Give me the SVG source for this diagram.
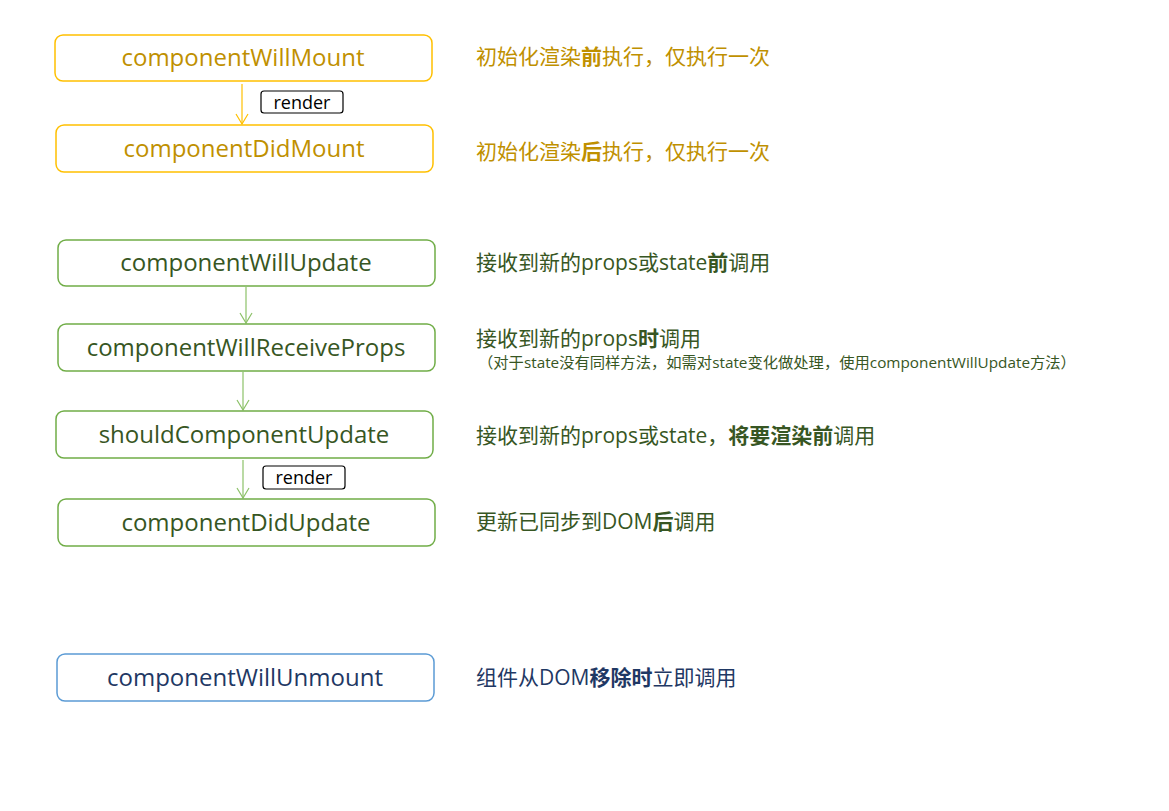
<svg xmlns="http://www.w3.org/2000/svg" width="1169" height="811" viewBox="0 0 1169 811">
<defs>
<style>
.box{fill:#fff;stroke-width:1.5}
.o{stroke:#FFC000}
.g{stroke:#70AD47}
.b{stroke:#5B9BD5}
.bt{font-family:"Open Sans","Noto Sans CJK SC",sans-serif;font-size:24px;text-anchor:middle}
.rt{font-family:"Open Sans","Noto Sans CJK SC",sans-serif;font-size:21px}
.note{font-family:"Open Sans","Noto Sans CJK SC",sans-serif;font-size:15.3px}
.to{fill:#BF9000}
.tg{fill:#375623}
.tb{fill:#1F3864}
.lbl{fill:#fff;stroke:#000;stroke-width:1.2}
.lt{font-family:"Open Sans","Noto Sans CJK SC",sans-serif;font-size:18px;text-anchor:middle;fill:#000}
.bold{font-weight:bold}
.ao{stroke:#FFC000;stroke-width:1.2;fill:none}
.ag{stroke:#8CC168;stroke-width:1.2;fill:none}
</style>
<marker id="arrO" viewBox="0 0 12 14" markerWidth="12" markerHeight="14" refX="11" refY="7" orient="auto" markerUnits="userSpaceOnUse">
<path d="M1,1 L11,7 L1,13" fill="none" stroke="#FFC000" stroke-width="1.2"/>
</marker>
<marker id="arrG" viewBox="0 0 12 14" markerWidth="12" markerHeight="14" refX="11" refY="7" orient="auto" markerUnits="userSpaceOnUse">
<path d="M1,1 L11,7 L1,13" fill="none" stroke="#8CC168" stroke-width="1.2"/>
</marker>
</defs>
<rect width="1169" height="811" fill="#fff"/>

<g id="connectors">
<line class="ao" x1="242" y1="84" x2="242" y2="124" marker-end="url(#arrO)"/>
<line class="ag" x1="246" y1="287" x2="246" y2="323" marker-end="url(#arrG)"/>
<line class="ag" x1="243" y1="372" x2="243" y2="410" marker-end="url(#arrG)"/>
<line class="ag" x1="243" y1="460" x2="243" y2="498" marker-end="url(#arrG)"/>
<g id="render1">
<rect class="lbl" x="261" y="91" width="82" height="22" rx="3"/>
<text class="lt" x="302" y="108.5">render</text>
</g>
<g id="render2">
<rect class="lbl" x="263" y="466" width="82" height="23" rx="3"/>
<text class="lt" x="304" y="483.5">render</text>
</g>
</g>

<g id="componentWillMount">
<rect class="box o" x="55" y="35" width="377" height="46" rx="8"/>
<text class="bt to" x="243" y="66">componentWillMount</text>
</g>
<g id="componentDidMount">
<rect class="box o" x="56" y="125" width="377" height="47" rx="8"/>
<text class="bt to" x="244" y="157">componentDidMount</text>
</g>
<g id="componentWillUpdate">
<rect class="box g" x="58" y="240" width="377" height="46" rx="8"/>
<text class="bt tg" x="246" y="271">componentWillUpdate</text>
</g>
<g id="componentWillReceiveProps">
<rect class="box g" x="58" y="324" width="377" height="47" rx="8"/>
<text class="bt tg" x="246" y="356">componentWillReceiveProps</text>
</g>
<g id="shouldComponentUpdate">
<rect class="box g" x="56" y="411" width="377" height="47" rx="8"/>
<text class="bt tg" x="244" y="443">shouldComponentUpdate</text>
</g>
<g id="componentDidUpdate">
<rect class="box g" x="58" y="499" width="377" height="47" rx="8"/>
<text class="bt tg" x="246" y="531">componentDidUpdate</text>
</g>
<g id="componentWillUnmount">
<rect class="box b" x="57" y="654" width="377" height="47" rx="8"/>
<text class="bt tb" x="245" y="686">componentWillUnmount</text>
</g>

<g id="descriptions">
<text class="rt to" x="476" y="63.5">初始化渲染<tspan class="bold">前</tspan>执行，仅执行一次</text>
<text class="rt to" x="476" y="158.5">初始化渲染<tspan class="bold">后</tspan>执行，仅执行一次</text>
<text class="rt tg" x="476" y="270">接收到新的props或state<tspan class="bold">前</tspan>调用</text>
<text class="rt tg" x="476" y="345.5">接收到新的props<tspan class="bold">时</tspan>调用</text>
<text class="note tg" x="478" y="368">（对于state没有同样方法，如需对state变化做处理，使用componentWillUpdate方法）</text>
<text class="rt tg" x="476" y="443">接收到新的props或state，<tspan class="bold">将要渲染前</tspan>调用</text>
<text class="rt tg" x="476" y="529">更新已同步到DOM<tspan class="bold">后</tspan>调用</text>
<text class="rt tb" x="476" y="685">组件从DOM<tspan class="bold">移除时</tspan>立即调用</text>
</g>
</svg>
